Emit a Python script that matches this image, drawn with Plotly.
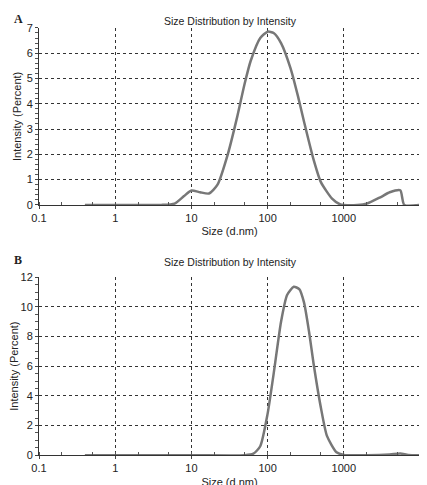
import plotly.graph_objects as go

size_a = [0.4, 1, 4, 6, 8, 10, 13, 17, 22, 30, 40, 50, 60, 80, 100, 120, 150, 200, 250, 300, 400, 500, 700, 900, 1000, 1500, 2000, 3000, 4000, 5500, 6200, 10000]
int_a = [0, 0, 0, 0.05, 0.35, 0.57, 0.5, 0.45, 0.8, 2.0, 3.5, 4.8, 5.7, 6.6, 6.85, 6.8, 6.4, 5.4, 4.3, 3.3, 1.8, 0.9, 0.25, 0.02, 0, 0, 0.05, 0.3, 0.5, 0.58, 0, 0]
size_b = [0.4, 1, 10, 50, 65, 80, 100, 120, 150, 180, 220, 260, 300, 350, 400, 500, 600, 800, 1000, 2000, 4000, 5500, 7000, 10000]
int_b = [0, 0, 0, 0, 0.1, 0.6, 2.8, 5.5, 9.0, 10.8, 11.35, 11.2, 10.3, 8.3, 6.2, 3.2, 1.3, 0.2, 0.02, 0, 0.05, 0.12, 0.02, 0]
xticks = [0.1, 1, 10, 100, 1000, 10000]
xlabels = ["0.1", "1", "10", "100", "1000", "10000"]

font = dict(family="Liberation Sans, Arial", size=11, color="#222")
fig = go.Figure()
fig.add_trace(go.Scatter(x=size_a, y=int_a, mode="lines", line=dict(color="#777", width=2.5, shape="spline", smoothing=0.6), xaxis="x", yaxis="y"))
fig.add_trace(go.Scatter(x=size_b, y=int_b, mode="lines", line=dict(color="#777", width=2.5, shape="spline", smoothing=0.6), xaxis="x2", yaxis="y2"))

xcommon = dict(type="log", range=[-1, 4], tickvals=xticks, ticktext=xlabels, showgrid=True, griddash="dot", gridcolor="#333", gridwidth=1,
               showline=True, linecolor="#333", mirror=False, ticks="outside", ticklen=3, tickfont=font, automargin=False,
               minor=dict(ticks="inside", ticklen=3, tickcolor="#555", showgrid=False), domain=[0.0726, 0.965], zeroline=False)
ycommon = dict(showgrid=True, griddash="dot", gridcolor="#333", showline=True, linecolor="#333", ticks="outside", ticklen=3,
               tickfont=font, zeroline=False, automargin=False, minor=dict(ticks="outside", ticklen=3, tickcolor="#555"))

fig.update_layout(
    width=427, height=485, margin=dict(l=0, r=0, t=0, b=0), showlegend=False,
    plot_bgcolor="white", paper_bgcolor="white", font=font,
    xaxis=dict(**xcommon, anchor="y", title=dict(text="Size (d.nm)", font=font, standoff=4)),
    yaxis=dict(**ycommon, range=[0, 7], dtick=1, domain=[0.594, 0.959], anchor="x",
               title=dict(text="Intensity (Percent)", font=font, standoff=2)),
    xaxis2=dict(**xcommon, anchor="y2", title=dict(text="Size (d.nm)", font=font, standoff=4)),
    yaxis2=dict(**ycommon, range=[0, 12], dtick=2, domain=[0.078, 0.445], anchor="x2",
                title=dict(text="Intensity (Percent)", font=font, standoff=2)),
    annotations=[
        dict(text="Size Distribution by Intensity", x=0.52, y=(485 - 5) / 485, xref="paper", yref="paper", showarrow=False, font=dict(family="Liberation Sans, Arial", size=10.5, color="#222")),
        dict(text="<b>A</b>", x=0.01, y=0.995, xref="paper", yref="paper", xanchor="left", yanchor="top", showarrow=False, font=dict(family="Liberation Serif, Times New Roman", size=12, color="#222")),
        dict(text="Size Distribution by Intensity", x=0.52, y=(485-254)/485, xref="paper", yref="paper", showarrow=False, font=dict(family="Liberation Sans, Arial", size=10.5, color="#222")),
        dict(text="<b>B</b>", x=0.01, y=(485-243)/485, xref="paper", yref="paper", xanchor="left", yanchor="top", showarrow=False, font=dict(family="Liberation Serif, Times New Roman", size=12, color="#222")),
    ],
)
fig.write_html("out.html")
